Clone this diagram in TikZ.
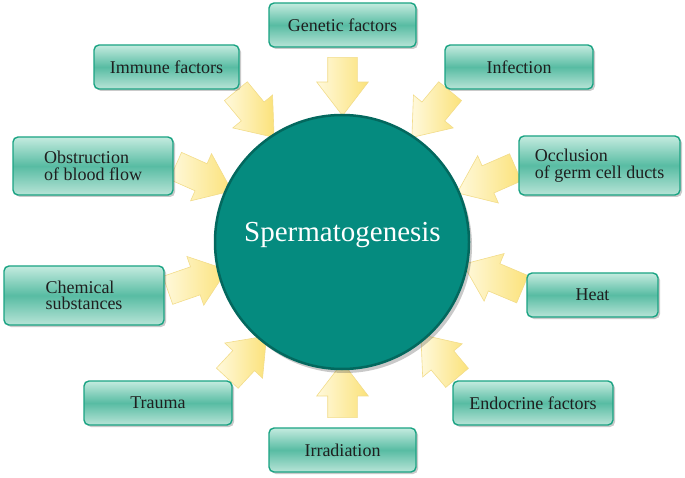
\documentclass[tikz,border=0pt]{standalone}
\usepackage{fontspec}
\setmainfont{Liberation Serif}
\usetikzlibrary{calc,shapes.arrows,shadows,backgrounds}

\definecolor{coreteal}{HTML}{058B7F}
\definecolor{corerim}{HTML}{03685E}
\definecolor{boxedge}{HTML}{1AA383}
\definecolor{boxtop}{HTML}{C4EBDF}
\definecolor{boxmid}{HTML}{58BCA3}
\definecolor{boxbot}{HTML}{B8E4D7}
\definecolor{arrowpale}{HTML}{FFF9DC}
\definecolor{arrowgold}{HTML}{FBE27A}
\definecolor{arrowedge}{HTML}{F2DC8A}

\tikzset{
  factor/.style={draw=boxedge, line width=1.4pt, rounded corners=5pt,
    top color=boxtop, bottom color=boxbot, middle color=boxmid,
    drop shadow={shadow xshift=2pt, shadow yshift=-2pt, opacity=0.35, fill=black!60},
    font=\fontsize{18}{16.5}\selectfont, text=black!88, align=left, inner sep=0pt},
  feeder/.style={single arrow, single arrow head extend=11pt,
    single arrow tip angle=75, inner xsep=0pt, inner ysep=14.5pt,
    text height=0pt, text depth=0pt, draw=arrowedge, line width=0.6pt,
    left color=arrowpale, right color=arrowgold}
}

% block arrow from #2 to #3, named #1
\newcommand\feedarrow[3]{%
  \path let \p1=(#2), \p2=(#3),
    \n1={atan2(\y2-\y1,\x2-\x1)}, \n2={veclen(\x2-\x1,\y2-\y1)} in
    node[feeder, rotate=\n1, minimum height=\n2] (#1) at ($(\p1)!0.5!(\p2)$) {};}

\begin{document}
\begin{tikzpicture}[x=1pt,y=-1pt]
  \useasboundingbox (0,0) rectangle (685,478);

  % centre disc
  \node[circle, minimum size=254pt, fill=coreteal, draw=corerim, line width=2.5pt,
    drop shadow={shadow xshift=3pt, shadow yshift=-4pt, opacity=0.3, fill=black!70}] (core) at (342,242) {};
  \node[anchor=base, text=white, font=\fontsize{29}{30}\selectfont] (title) at (342.5,242) {Spermatogenesis};

  % factor boxes
  \node[factor, minimum width=147pt, minimum height=44pt] (genetic) at (342.5,25) {Genetic factors};
  \node[factor, minimum width=145pt, minimum height=44pt] (immune) at (166.5,67) {Immune factors};
  \node[factor, minimum width=148pt, minimum height=44pt] (infection) at (519,67) {Infection};
  \node[factor, minimum width=160pt, minimum height=58pt] (obstruction) at (93,166) {Obstruction\\of blood flow};
  \node[factor, minimum width=161pt, minimum height=59pt] (occlusion) at (599.5,165.5) {Occlusion\\of germ cell ducts};
  \node[factor, minimum width=160pt, minimum height=59pt] (chemical) at (84,295.5) {Chemical\\substances};
  \node[factor, minimum width=131pt, minimum height=44pt] (heat) at (592.5,295) {Heat};
  \node[factor, minimum width=148pt, minimum height=44pt] (trauma) at (158,403) {Trauma};
  \node[factor, minimum width=160pt, minimum height=44pt] (endocrine) at (533,403) {Endocrine factors};
  \node[factor, minimum width=147pt, minimum height=44pt] (irradiation) at (342.5,450) {Irradiation};

  % arrows towards the disc
  \begin{scope}[on background layer]
    \foreach \b/\a/\dx/\dy/\tx/\ty in {
        genetic/south/0/0/342.5/106,
        irradiation/north/0/0/342.5/372,
        immune/south east/-10/-6/268/130,
        infection/south west/12/-6/418/130,
        obstruction/east/-7/-4/223/187,
        occlusion/west/6/-2/466/189,
        chemical/east/-6/-2/218/273,
        heat/west/5/-2/472/268,
        trauma/north east/-12/5/260/343,
        endocrine/north west/11/5/427/342}
      \feedarrow{\b-arrow}{$(\b.\a)+(\dx,\dy)$}{\tx,\ty};
  \end{scope}
\end{tikzpicture}
\end{document}
